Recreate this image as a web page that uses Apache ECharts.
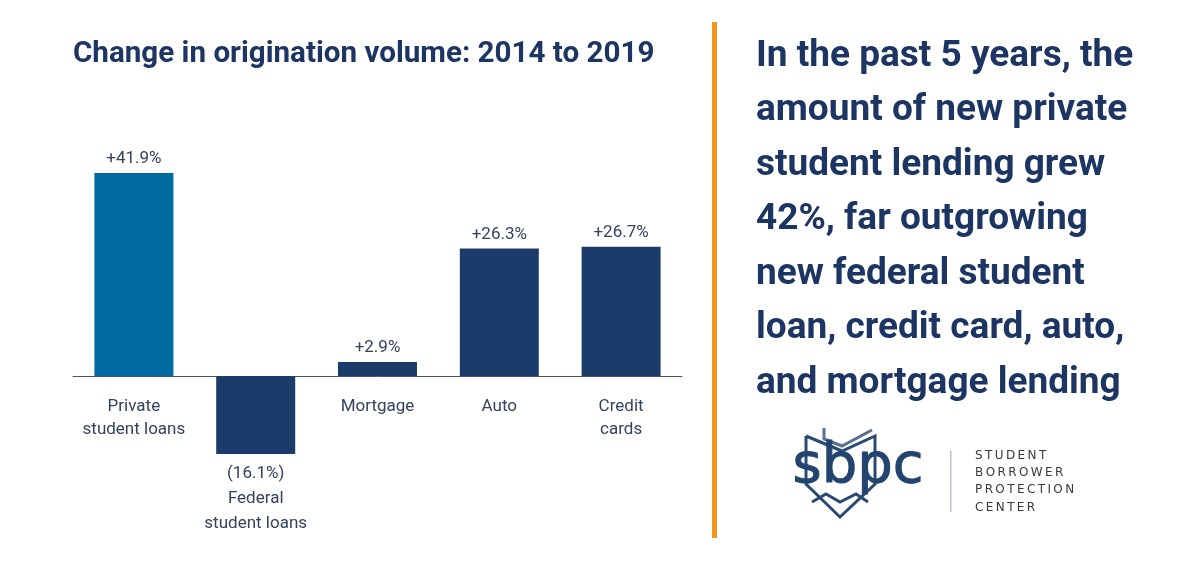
<!DOCTYPE html>
<html>
<head>
<meta charset="utf-8">
<script src="https://cdn.jsdelivr.net/npm/echarts@6/dist/echarts.min.js"></script>
<style>
  html, body { margin: 0; padding: 0; background: #fff; }
  #chart { width: 1200px; height: 579px; }
</style>
</head>
<body>
<div id="chart"></div>
<script>
// categories and values (percent change in origination volume 2014 -> 2019)
const categories = ['Private\nstudent loans', 'Federal\nstudent loans', 'Mortgage', 'Auto', 'Credit\ncards']
const changes = [41.9, -16.1, 2.9, 26.3, 26.7]
const valueLabels = ['+41.9%', '(16.1%)', '+2.9%', '+26.3%', '+26.7%']
const headline = [
  'In the past 5 years, the',
  'amount of new private',
  'student lending grew',
  '42%, far outgrowing',
  'new federal student',
  'loan, credit card, auto,',
  'and mortgage lending'
]
const logoWords = ['STUDENT', 'BORROWER', 'PROTECTION', 'CENTER']

const navy = '#1b3c6b'
const blue = '#006aa2'
const textColor = '#34425e'

const chart = echarts.init(document.getElementById('chart'))

// negative bars carry their category name under the value label
const barData = changes.map((v, i) => ({
  value: v,
  itemStyle: { color: i === 0 ? blue : navy },
  label: {
    position: v < 0 ? 'bottom' : 'top',
    distance: v < 0 ? 7 : 4,
    lineHeight: v < 0 ? 25 : 20
  }
}))

// wide tracking for the logo words
const spaced = w => w.split('').join('\u2009')

const option = {
  animation: false,
  backgroundColor: '#fff',
  title: {
    text: 'Change in origination volume: 2014 to 2019',
    left: 68,
    top: 35,
    textStyle: {
      fontFamily: 'Roboto',
      fontWeight: 'bold',
      fontSize: 29.6,
      color: '#1d3562'
    }
  },
  grid: {
    left: 73,
    width: 609,
    top: 158,
    height: 315,
    containLabel: false,
    outerBoundsMode: 'none'
  },
  xAxis: {
    type: 'category',
    data: categories,
    axisLine: { lineStyle: { color: '#4a5670', width: 1 } },
    axisTick: { show: false },
    axisLabel: {
      // labels sit at the grid bottom, pull them up to the zero line
      margin: -78,
      fontFamily: 'Roboto',
      fontSize: 17,
      lineHeight: 23,
      color: textColor,
      interval: 0,
      formatter: (v, i) => (changes[i] < 0 ? '' : v)
    }
  },
  yAxis: {
    type: 'value',
    min: -20,
    max: 45,
    show: false,
    splitLine: { show: false }
  },
  series: [{
    type: 'bar',
    data: barData,
    barWidth: 79,
    label: {
      show: true,
      fontFamily: 'Roboto',
      fontSize: 17,
      color: textColor,
      formatter: p => (changes[p.dataIndex] < 0
        ? valueLabels[p.dataIndex] + '\n' + categories[p.dataIndex]
        : valueLabels[p.dataIndex])
    }
  }],
  graphic: [
    // orange divider
    {
      type: 'rect',
      shape: { x: 712, y: 22, width: 5, height: 516 },
      style: { fill: '#f7941d' }
    },
    // headline text
    {
      type: 'text',
      left: 756,
      top: 29,
      style: {
        text: headline.join('\n'),
        fontFamily: 'Roboto',
        fontWeight: 'bold',
        fontSize: 37,
        lineHeight: 54.5,
        fill: '#1d3562'
      }
    },
    // logo shield
    {
      type: 'polyline',
      shape: { points: [[806, 436], [806, 484], [840, 517], [875, 484], [875, 436], [842, 451], [806, 436]] },
      style: { stroke: '#2a4a74', lineWidth: 3, fill: 'none' }
    },
    {
      type: 'polyline',
      shape: { points: [[824, 428], [824, 439], [842, 446], [872, 430]] },
      style: { stroke: '#5a7090', lineWidth: 3, fill: 'none' }
    },
    {
      type: 'polyline',
      shape: { points: [[812, 502], [826, 494], [840, 502], [856, 494], [868, 502]] },
      style: { stroke: '#2a4a74', lineWidth: 3, fill: 'none' }
    },
    {
      type: 'text',
      left: 792,
      top: 439,
      style: {
        text: 'sbpc',
        fontFamily: 'DejaVu Sans',
        fontSize: 56,
        fill: '#23446f',
        stroke: '#23446f',
        lineWidth: 1
      }
    },
    {
      type: 'rect',
      shape: { x: 950, y: 451, width: 1.5, height: 61 },
      style: { fill: '#b9c3d0' }
    },
    {
      type: 'text',
      left: 975,
      top: 447,
      style: {
        text: logoWords.map(spaced).join('\n'),
        fontFamily: 'DejaVu Sans',
        fontSize: 12,
        lineHeight: 17.3,
        fill: '#3a3a3a'
      }
    }
  ]
}

chart.setOption(option)
</script>
</body>
</html>
